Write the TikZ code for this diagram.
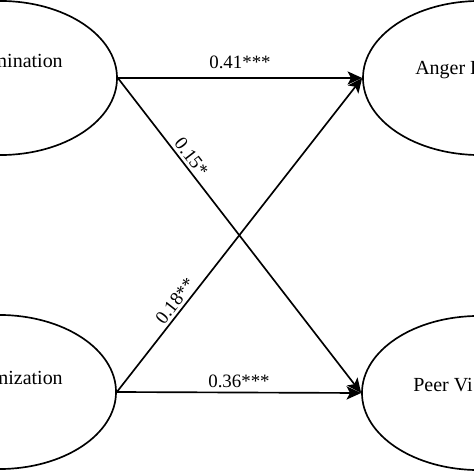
\documentclass[tikz,border=0pt]{standalone}
\usepackage{fontspec}
\setmainfont{Liberation Serif}
\usetikzlibrary{arrows.meta, shapes.geometric}

\begin{document}
\begin{tikzpicture}[x=0.7204pt, y=-0.7204pt, >={Stealth[length=10.5pt,width=9.5pt,inset=2.5pt]},
  latent/.style={draw, ellipse, line width=1.2pt, minimum width=168.6pt, minimum height=111pt, inner sep=0pt},
  effect/.style={->, line width=1.2pt},
  coef/.style={font=\fontsize{13.6}{16}\selectfont, inner sep=1pt},
  vartext/.style={font=\fontsize{14.4}{17}\selectfont, inner sep=0pt}]
  \path[use as bounding box, clip] (0,0) rectangle (474,474);
  % latent variables
  \node[latent] (rum) at (0,78) {};
  \node[latent] (vic) at (-1,392) {};
  \node[latent] (ang) at (480,78) {};
  \node[latent] (peer) at (479,393) {};
  % names
  \node[vartext, anchor=base east] (rumtxt) at (63,68) {mination};
  \node[vartext, anchor=base east] (victxt) at (63,384) {mization};
  \node[vartext, anchor=base west] (angtxt) at (415,75) {Anger R};
  \node[vartext, anchor=base west] (peertxt) at (413,391) {Peer Vi};
  % paths
  \draw[effect] (rum.east) -- node[coef, above=5pt] {0.41***} (ang.west);
  \draw[effect] (vic.east) -- node[coef, above=2pt] {0.36***} (peer.west);
  \draw[effect] (rum.east) -- node[coef, pos=0.27, above=1pt, sloped] {0.15*} (peer.west);
  \draw[effect] (vic.east) -- node[coef, pos=0.27, above=1pt, sloped] {0.18**} (ang.west);
\end{tikzpicture}
\end{document}
